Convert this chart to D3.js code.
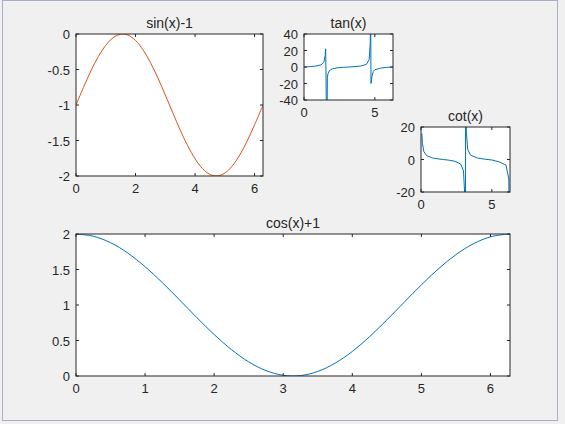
<!DOCTYPE html>
<html><head><meta charset="utf-8">
<script src="https://cdn.jsdelivr.net/npm/d3@7"></script>
<style>body{margin:0;background:#fff}text{font-family:"Liberation Sans",Arial,sans-serif;fill:#262626}</style>
</head><body><svg id="c" width="565" height="424"></svg>
<script>
var sinX = [0,0.25,0.5,0.75,1,1.25,1.5,1.75,2,2.25,2.5,2.75,3,3.25,3.5,3.75,4,4.25,4.5,4.75,5,5.25,5.5,5.75,6,6.25,6.283];
var sinY = [-1,-0.753,-0.521,-0.318,-0.159,-0.051,-0.003,-0.016,-0.091,-0.222,-0.402,-0.618,-0.859,-1.108,-1.351,-1.572,-1.757,-1.895,-1.978,-1.999,-1.959,-1.859,-1.706,-1.508,-1.279,-1.033,-1];
var cosY = [2,1.969,1.878,1.732,1.540,1.315,1.071,0.822,0.584,0.372,0.199,0.076,0.010,0.006,0.064,0.180,0.346,0.554,0.789,1.038,1.284,1.512,1.709,1.861,1.960,1.999,2];
var tanX = [0,0.4,0.8,1.2,1.4,1.5,1.53,1.61,1.65,1.7,1.8,2.0,2.4,2.8,3.2,3.6,4.0,4.4,4.6,4.68,4.7,4.73,4.8,4.9,5.0,5.4,5.8,6.283];
var tanY = [0,0.42,1.03,2.57,5.8,14.1,22,-90,-12.6,-7.7,-4.3,-2.19,-0.92,-0.36,0.06,0.49,1.16,3.1,8.86,30,90,-20,-11.4,-5.27,-3.38,-1.35,-0.53,0];
var cotX = [0.06,0.1,0.2,0.4,0.8,1.2,1.6,2.0,2.4,2.8,3.0,3.1,3.14,3.15,3.2,3.3,3.5,4.0,4.5,5.0,5.5,6.0,6.2,6.28];
var cotY = [16,9.97,4.93,2.37,0.97,0.39,-0.03,-0.46,-1.09,-2.81,-7.0,-24,-100,100,17,6.1,2.65,0.86,0.21,-0.30,-1.41,-3.44,-12,-100];

var svg = d3.select("#c");
svg.append("rect").attr("width",565).attr("height",424).attr("fill","#f0f0f0");
svg.append("rect").attr("x",2.5).attr("y",0.5).attr("width",555).attr("height",420).attr("fill","none").attr("stroke","#a8b0c8");

function panel(id, box, xd, yd, xt, yt, title, xs, ys, color) {
  var x = d3.scaleLinear().domain(xd).range([box[0], box[1]]);
  var y = d3.scaleLinear().domain(yd).range([box[3], box[2]]);
  var g = svg.append("g");
  g.append("clipPath").attr("id",id).append("rect")
    .attr("x",box[0]).attr("y",box[2]).attr("width",box[1]-box[0]).attr("height",box[3]-box[2]);
  g.append("rect").attr("x",box[0]).attr("y",box[2]).attr("width",box[1]-box[0]).attr("height",box[3]-box[2]).attr("fill","#fff");
  var line = d3.line().x((d,i)=>x(xs[i])).y(d=>y(d)).curve(d3.curveCatmullRom);
  if (id != "s" && id != "c2") line.curve(d3.curveLinear);
  g.append("path").datum(ys).attr("d",line).attr("fill","none").attr("stroke",color).attr("stroke-width",1).attr("clip-path","url(#"+id+")");
  var t = 3;
  xt.forEach(v => {
    g.append("line").attr("x1",x(v)).attr("x2",x(v)).attr("y1",box[3]).attr("y2",box[3]-t).attr("stroke","#262626");
    g.append("line").attr("x1",x(v)).attr("x2",x(v)).attr("y1",box[2]).attr("y2",box[2]+t).attr("stroke","#262626");
    g.append("text").attr("x",x(v)).attr("y",box[3]+17).attr("text-anchor","middle").attr("font-size",13).text(v);
  });
  yt.forEach(v => {
    g.append("line").attr("x1",box[0]).attr("x2",box[0]+t).attr("y1",y(v)).attr("y2",y(v)).attr("stroke","#262626");
    g.append("line").attr("x1",box[1]).attr("x2",box[1]-t).attr("y1",y(v)).attr("y2",y(v)).attr("stroke","#262626");
    g.append("text").attr("x",box[0]-6).attr("y",y(v)+5).attr("text-anchor","end").attr("font-size",13).text(v);
  });
  g.append("rect").attr("x",box[0]).attr("y",box[2]).attr("width",box[1]-box[0]).attr("height",box[3]-box[2])
    .attr("fill","none").attr("stroke","#262626");
  g.append("text").attr("x",(box[0]+box[1])/2).attr("y",box[2]-6).attr("text-anchor","middle").attr("font-size",14).text(title);
}

var orange = "#d95319", blue = "#0072bd";
panel("s",[76,263,34,176],[0,6.283],[-2,0],[0,2,4,6],[0,-0.5,-1,-1.5,-2],"sin(x)-1",sinX,sinY,orange);
panel("t",[304,393,34,100],[0,6.283],[-40,40],[0,5],[40,20,0,-20,-40],"tan(x)",tanX,tanY,blue);
panel("k",[421,510,127,192],[0,6.283],[-20,20],[0,5],[20,0,-20],"cot(x)",cotX,cotY,blue);
panel("c2",[76,510,234,376],[0,6.283],[0,2],[0,1,2,3,4,5,6],[0,0.5,1,1.5,2],"cos(x)+1",sinX,cosY,blue);
</script></body></html>
